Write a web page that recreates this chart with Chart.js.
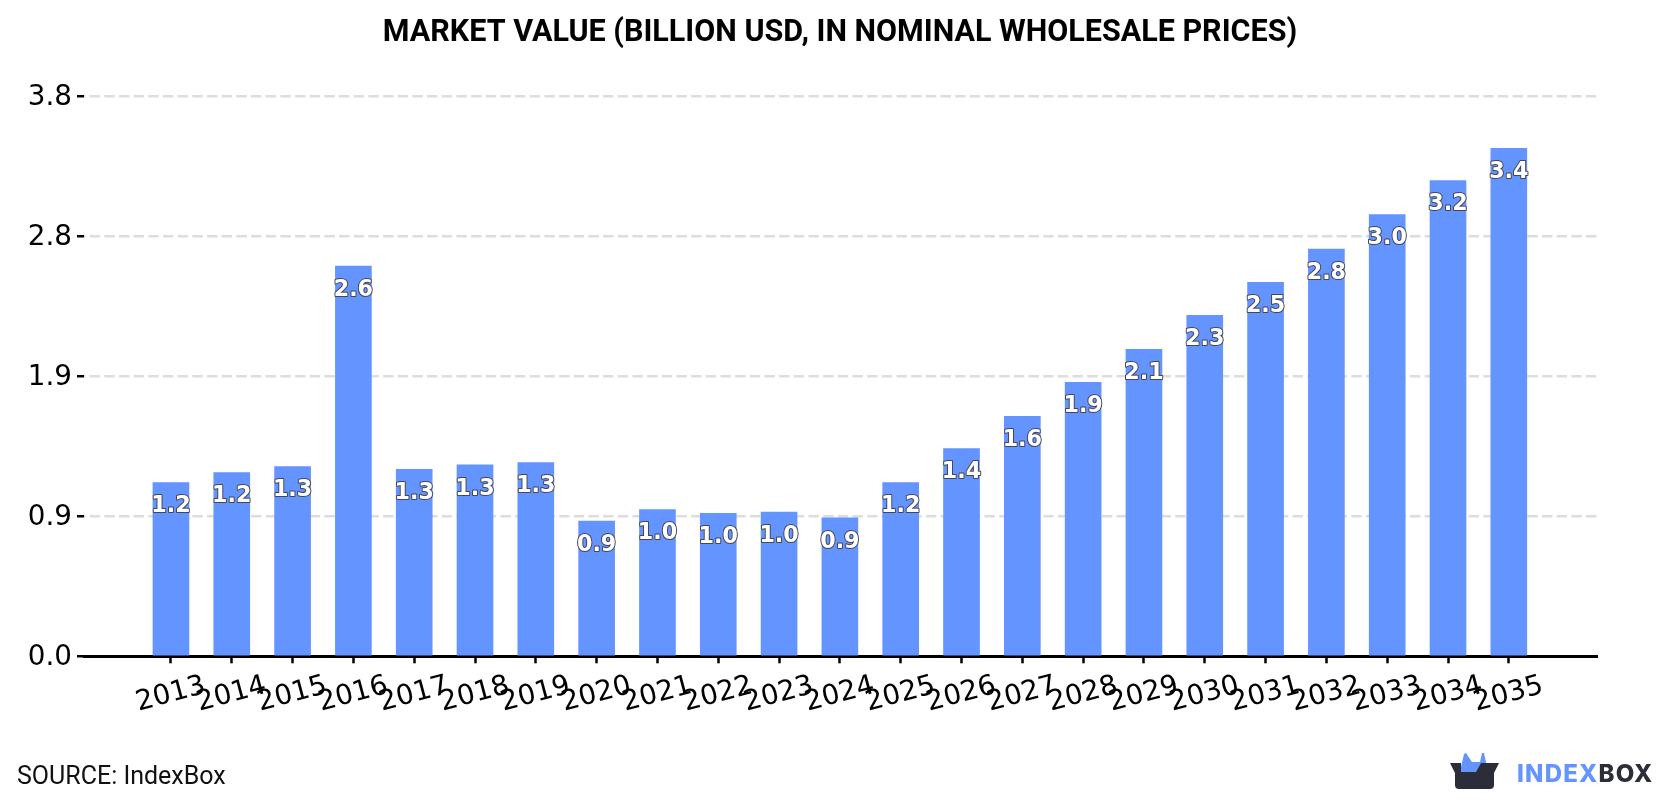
<!DOCTYPE html>
<html>
<head>
<meta charset="utf-8">
<title>Market value</title>
<script src="https://cdn.jsdelivr.net/npm/chart.js@4/dist/chart.umd.min.js"></script>
<style>
  html, body { margin: 0; padding: 0; background: #fff; }
  canvas { display: block; }
</style>
</head>
<body>
<canvas id="market-chart" width="1680" height="800"></canvas>
<script>
// Chart data
const years = [2013, 2014, 2015, 2016, 2017, 2018, 2019, 2020, 2021, 2022, 2023, 2024,
  2025, 2026, 2027, 2028, 2029, 2030, 2031, 2032, 2033, 2034, 2035];
const marketValues = [1.18, 1.248, 1.289, 2.649, 1.269, 1.30, 1.316, 0.918, 0.997, 0.97, 0.98, 0.94,
  1.18, 1.41, 1.63, 1.86, 2.085, 2.315, 2.54, 2.765, 3.0, 3.23, 3.449];
const yTickValues = [0, 0.95, 1.9, 2.85, 3.8];
const yTickLabels = ['0.0', '0.9', '1.9', '2.8', '3.8'];

const BAR_COLOR = 'rgb(99, 148, 255)';
const LOGO_DARK = 'rgb(43, 45, 56)';

// White value labels with a thin dark outline, just under the top of each bar
const valueLabels = {
  id: 'valueLabels',
  afterDatasetsDraw(chart) {
    const ctx = chart.ctx;
    ctx.save();
    ctx.font = 'bold 22.2px "DejaVu Sans"';
    ctx.textAlign = 'center';
    ctx.textBaseline = 'middle';
    ctx.lineJoin = 'round';
    chart.getDatasetMeta(0).data.forEach((bar, i) => {
      const text = marketValues[i].toFixed(1);
      ctx.lineWidth = 2;
      ctx.strokeStyle = 'rgb(70, 70, 80)';
      ctx.strokeText(text, bar.x, bar.y + 24);
      ctx.fillStyle = '#fff';
      ctx.fillText(text, bar.x, bar.y + 24);
    });
    ctx.restore();
  }
};

// Title, source line and logo around the plot
const pageText = {
  id: 'pageText',
  afterDraw(chart) {
    const ctx = chart.ctx;
    ctx.save();
    ctx.fillStyle = '#000';
    ctx.font = 'bold 30.5px Roboto';
    ctx.textAlign = 'center';
    ctx.textBaseline = 'middle';
    ctx.fillText('MARKET VALUE (BILLION USD, IN NOMINAL WHOLESALE PRICES)', 840, 33.5);

    ctx.textAlign = 'left';
    ctx.textBaseline = 'alphabetic';
    ctx.fillStyle = '#111';
    ctx.font = '25px Roboto';
    ctx.fillText('SOURCE: IndexBox', 17, 784);

    // box flaps
    ctx.fillStyle = BAR_COLOR;
    ctx.beginPath();
    ctx.moveTo(1461, 767);
    ctx.lineTo(1464, 754);
    ctx.lineTo(1466, 753);
    ctx.lineTo(1472, 762);
    ctx.lineTo(1480, 762);
    ctx.lineTo(1482, 753);
    ctx.lineTo(1484, 753);
    ctx.lineTo(1487, 767);
    ctx.lineTo(1478, 772);
    ctx.lineTo(1461, 772);
    ctx.closePath();
    ctx.fill();

    // box body
    ctx.fillStyle = LOGO_DARK;
    ctx.beginPath();
    ctx.moveTo(1450, 763);
    ctx.lineTo(1461, 763);
    ctx.lineTo(1461, 772);
    ctx.lineTo(1476, 772);
    ctx.lineTo(1481, 763);
    ctx.lineTo(1499, 763);
    ctx.lineTo(1494, 773);
    ctx.lineTo(1494, 785);
    ctx.quadraticCurveTo(1494, 789, 1490, 789);
    ctx.lineTo(1459, 789);
    ctx.quadraticCurveTo(1455, 789, 1455, 785);
    ctx.lineTo(1455, 773);
    ctx.closePath();
    ctx.fill();

    ctx.font = '800 24px Inter';
    ctx.letterSpacing = '1.2px';
    ctx.fillStyle = BAR_COLOR;
    ctx.fillText('INDEX', 1517, 782);
    const indexWidth = ctx.measureText('INDEX').width;
    ctx.fillStyle = LOGO_DARK;
    ctx.fillText('BOX', 1517 + indexWidth, 782);
    ctx.restore();
  }
};

const ctx = document.getElementById('market-chart').getContext('2d');

new Chart(ctx, {
  type: 'bar',
  data: {
    datasets: [{
      data: years.map((year, i) => ({ x: year, y: marketValues[i] })),
      backgroundColor: BAR_COLOR,
      barThickness: 36
    }]
  },
  plugins: [valueLabels, pageText],
  options: {
    responsive: false,
    animation: false,
    layout: { padding: { top: 96.7, right: 83 } },
    plugins: {
      legend: { display: false },
      tooltip: { enabled: false }
    },
    scales: {
      x: {
        type: 'linear',
        offset: false,
        min: 2011.57,
        max: 2036.45,
        afterFit(scale) { scale.height = 143.7; },
        afterBuildTicks(scale) { scale.ticks = years.map(value => ({ value })); },
        grid: {
          offset: false,
          drawOnChartArea: false,
          tickColor: '#000',
          tickLength: 7,
          tickWidth: 2.5
        },
        border: { color: '#000', width: 3 },
        ticks: {
          autoSkip: false,
          minRotation: 15,
          maxRotation: 15,
          labelOffset: 34,
          padding: 6,
          color: '#000',
          font: { family: 'DejaVu Sans', size: 27.8 },
          callback: value => String(value)
        }
      },
      y: {
        min: 0,
        max: 3.8,
        afterFit(scale) { scale.width = 84; },
        afterBuildTicks(scale) { scale.ticks = yTickValues.map(value => ({ value })); },
        grid: {
          color: 'rgb(221, 221, 221)',
          lineWidth: 2.5,
          tickColor: '#000',
          tickLength: 7,
          tickWidth: 2.5,
          tickBorderDash: []
        },
        border: { display: false, dash: [10.4, 4.27], dashOffset: 9 },
        ticks: {
          padding: 5,
          labelOffset: 1,
          color: '#000',
          font: { family: 'DejaVu Sans', size: 27.8 },
          callback: (value, index) => yTickLabels[index]
        }
      }
    }
  }
});
</script>
</body>
</html>
